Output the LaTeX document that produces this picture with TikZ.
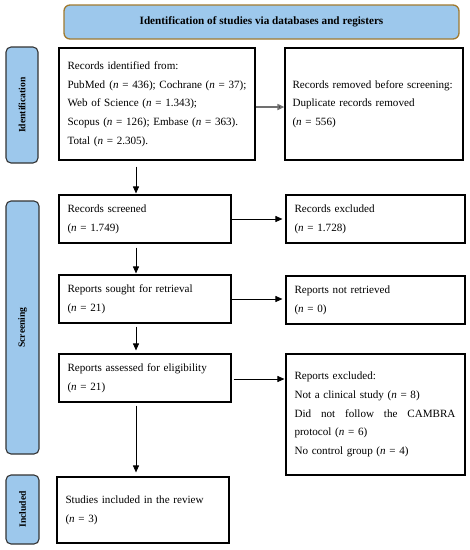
\documentclass[tikz,border=0pt]{standalone}
\usepackage{fontspec}
\setmainfont{Liberation Serif}
\usetikzlibrary{arrows.meta}
\definecolor{lblue}{HTML}{9DC8EC}
\definecolor{goldb}{HTML}{A07A30}
\definecolor{grayarrow}{HTML}{707070}
\newcommand{\nn}{\textit{n}}
\begin{document}
\begin{tikzpicture}[x=1pt,y=-1pt,
  box/.style={draw,line width=1.1pt,rectangle,inner xsep=8.5pt,inner ysep=0pt,
    align=left,font=\fontsize{11.1}{18.7}\selectfont},
  sidelbl/.style={draw=black!80,line width=1.1pt,fill=lblue,rounded corners=5pt,
    rotate=90,inner sep=0pt,font=\bfseries\fontsize{9.6}{12}\selectfont},
  banner/.style={draw=goldb,line width=1.3pt,fill=lblue,rounded corners=6pt,
    inner sep=0pt,font=\bfseries\fontsize{11.2}{13}\selectfont},
  arr/.style={line width=0.9pt,-{Triangle[length=7pt,width=6pt]}},
  garr/.style={draw=grayarrow,line width=1.6pt,-{Triangle[length=7pt,width=6pt,fill=black]}}
]
\useasboundingbox (0,0) rectangle (470,550);
\coordinate (ax) at (136,0);

\node[banner,minimum width=395pt,minimum height=34pt] (ban) at (261.5,22)
  {Identification of studies via databases and registers};

\node[sidelbl,minimum width=116pt,minimum height=32pt] (L1) at (22,105) {Identification};
\node[sidelbl,minimum width=253pt,minimum height=33pt] (L2) at (22.5,327.5) {Screening};
\node[sidelbl,minimum width=69pt,minimum height=33pt] (L3) at (22.5,509.5) {Included};

\node[box,minimum width=196pt,text width=179pt,minimum height=112pt] (B1) at (157,104)
  {Records identified from:\\
   \makebox[179pt][l]{PubMed\hfill(\nn{} = 436); Cochrane (\nn{} = 37);}\\
   Web of Science (\nn{} = 1.343);\\
   Scopus (\nn{} = 126); Embase (\nn{} = 363).\\
   Total (\nn{} = 2.305).};
\node[box,inner xsep=7.5pt,minimum width=178pt,text width=163pt,minimum height=112pt] (B2) at (374,104)
  {\mbox{Records removed before screening:}\\
   Duplicate records removed\\
   (\nn{} = 556)};

\node[box,minimum width=172pt,text width=155pt,minimum height=48pt] (B3) at (145,219)
  {Records screened\\(\nn{} = 1.749)};
\node[box,minimum width=179pt,text width=162pt,minimum height=48pt] (B4) at (375.5,219)
  {Records excluded\\(\nn{} = 1.728)};

\node[box,minimum width=172pt,text width=155pt,minimum height=48pt] (B5) at (145,299)
  {Reports sought for retrieval\\(\nn{} = 21)};
\node[box,minimum width=179pt,text width=162pt,minimum height=48pt] (B6) at (375.5,300)
  {Reports not retrieved\\(\nn{} = 0)};

\node[box,minimum width=172pt,text width=155pt,minimum height=48pt] (B7) at (145,378)
  {Reports assessed for eligibility\\(\nn{} = 21)};
\node[box,minimum width=179pt,text width=162pt,minimum height=121pt] (B8) at (375.5,414.5)
  {Reports excluded:\\
   Not a clinical study (\nn{} = 8)\\
   \makebox[161pt][l]{Did\hfill not\hfill follow\hfill the\hfill CAMBRA}\\
   protocol (\nn{} = 6)\\
   No control group (\nn{} = 4)};

\node[box,minimum width=172pt,text width=155pt,minimum height=66pt] (B9) at (143,510)
  {Studies included in the review\\(\nn{} = 3)};

% arrows
\draw[garr] ([yshift=-3pt]B1.east) -- ([yshift=-3pt]B2.west);
\draw[arr,shorten <=6pt,shorten >=1pt] (B1.south -| ax) -- (B3.north -| ax);
\draw[arr,shorten <=4pt,shorten >=1pt] (B3.south -| ax) -- (B5.north -| ax);
\draw[arr,shorten <=3pt,shorten >=3pt] (B5.south -| ax) -- (B7.north -| ax);
\draw[arr,shorten <=3pt,shorten >=4pt] (B7.south -| ax) -- (B9.north -| ax);
\draw[arr,shorten >=3pt] (B3.east) -- (B4.west);
\draw[arr,shorten >=3pt] (B5.east) -- (B5.east -| B6.west);
\draw[arr,shorten <=2pt,shorten >=1pt] ([yshift=-1pt]B7.east) -- ([yshift=-1pt]B7.east -| B8.west);
\end{tikzpicture}
\end{document}
